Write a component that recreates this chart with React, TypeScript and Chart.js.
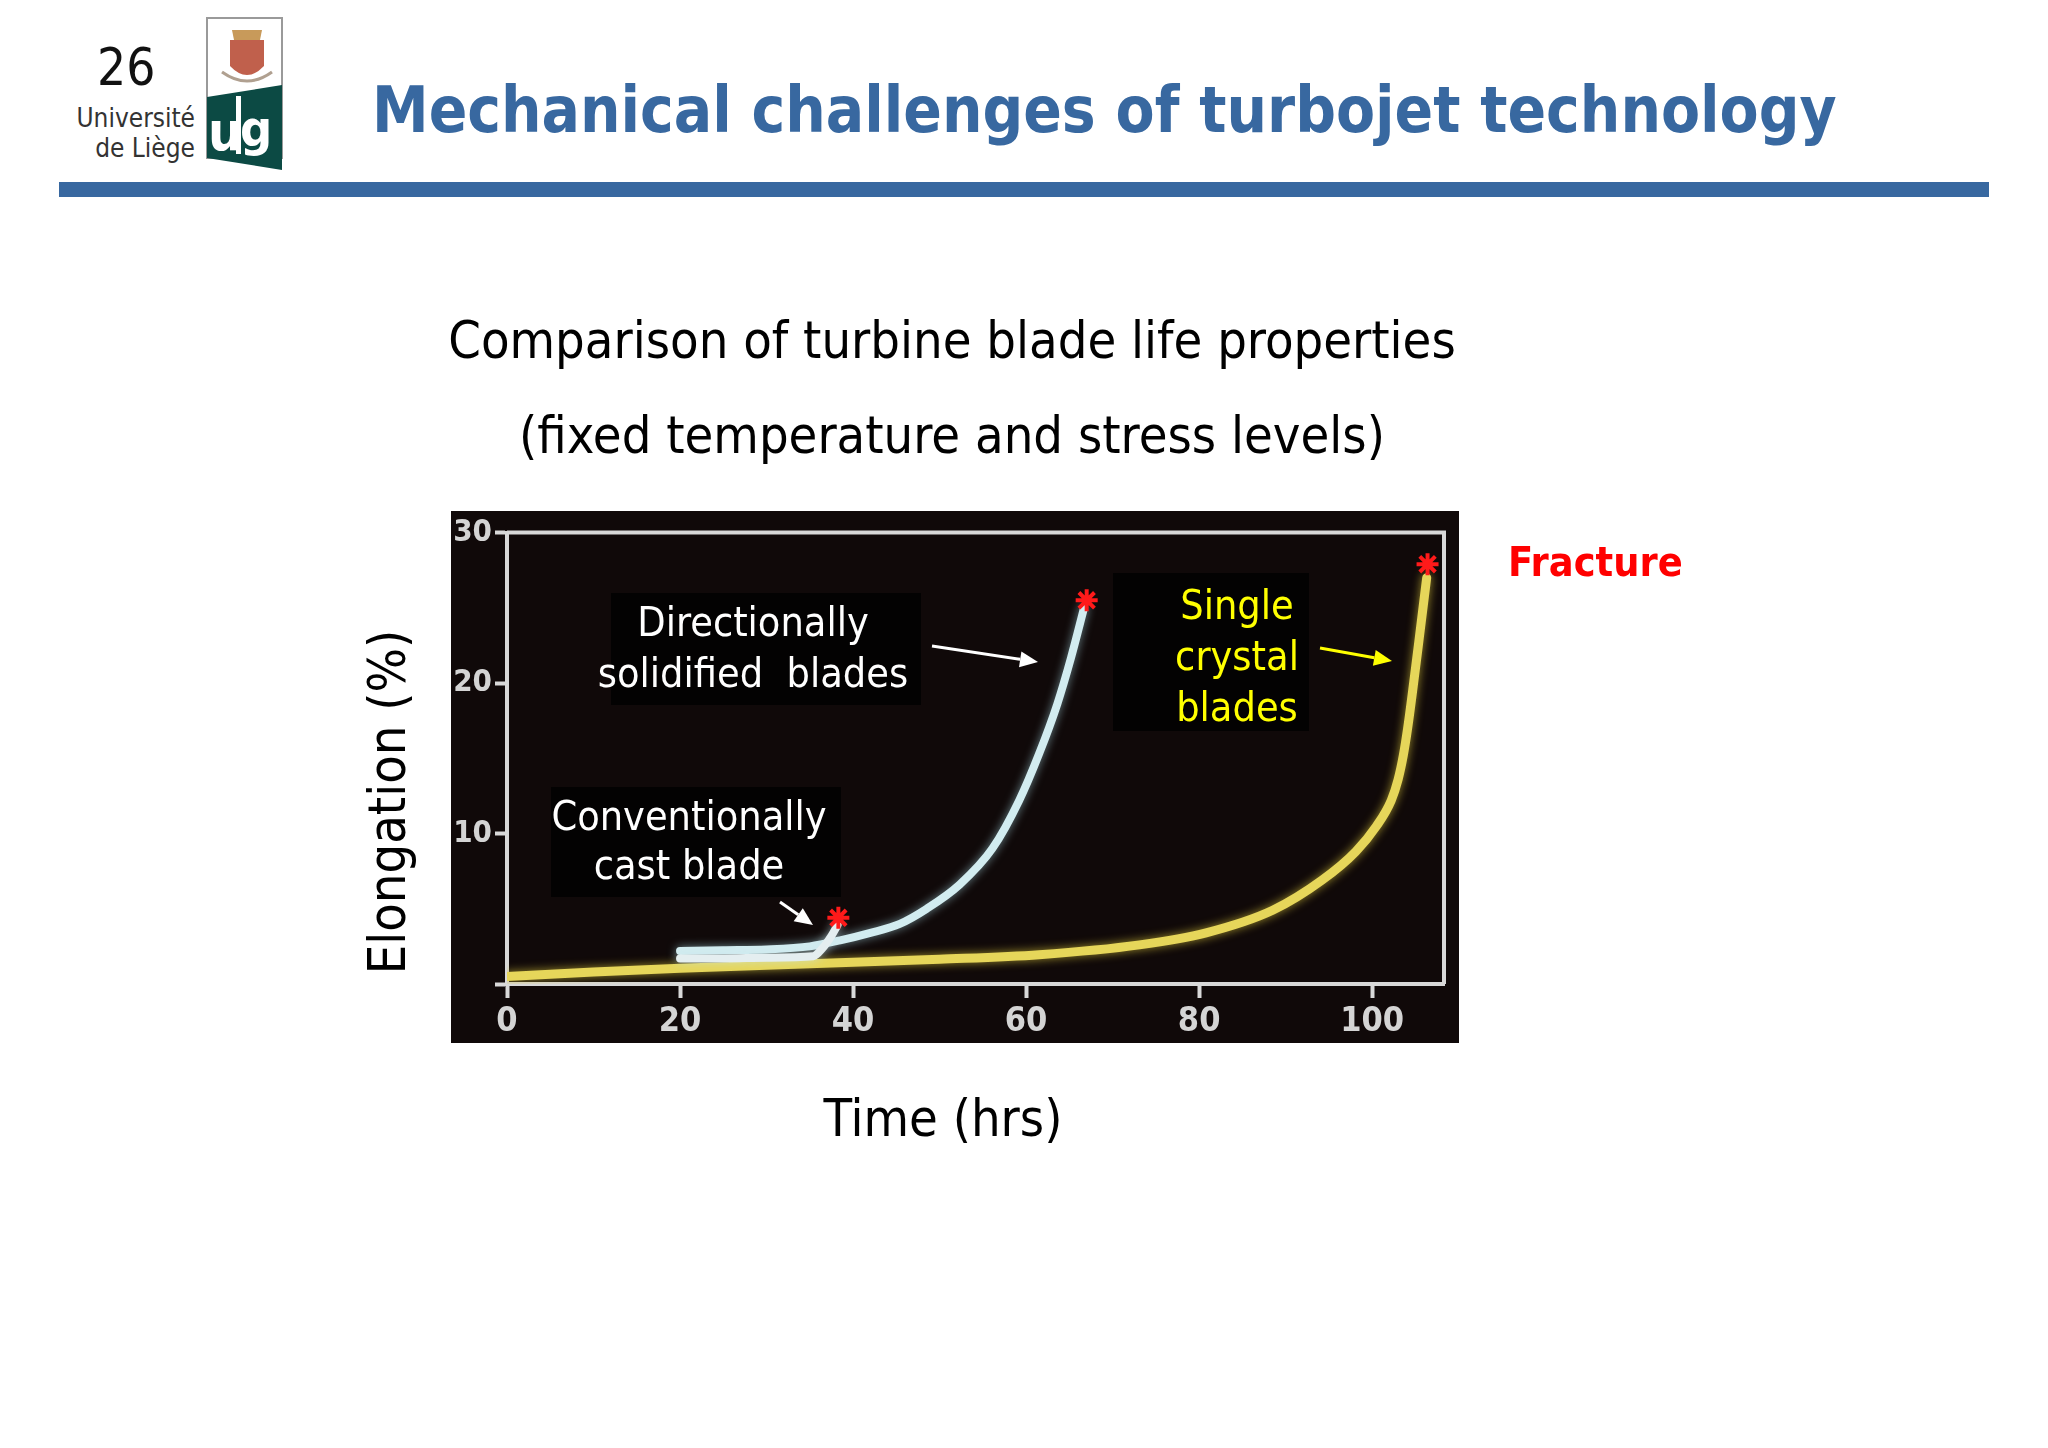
import React, { useEffect, useRef } from "react";
import { Chart, registerables } from "chart.js";

Chart.register(...registerables);

// ---------- data ----------
const xTickValues = [0, 20, 40, 60, 80, 100];
const yTickValues = [0, 10, 20, 30];
const yTickLabels = ["", "10", "20", "30"];

// Conventionally cast blade
const timeCC = [20, 25, 30, 35.4, 36.5, 37.5, 38.2];
const elongCC = [1.7, 1.7, 1.75, 1.85, 2.4, 3.2, 3.9];
// Directionally solidified blades
const timeDS = [20, 25, 30, 35, 38.5, 42, 45.4, 48.5, 52.3, 56.1, 59.2, 61.5, 63.6, 65.2, 66.7];
const elongDS = [2.2, 2.25, 2.3, 2.5, 2.9, 3.4, 4.0, 5.0, 6.6, 9.0, 12.2, 15.3, 18.6, 21.7, 25.0];
// Single crystal blades
const timeSC = [0, 10, 20, 30, 40, 50, 61.5, 73.1, 80.8, 88.5, 94.2, 98.1, 100.5, 102.2, 103.0, 103.6, 104.1, 104.7, 105.4, 106.3];
const elongSC = [0.5, 0.8, 1.05, 1.25, 1.45, 1.65, 1.95, 2.6, 3.4, 4.9, 6.9, 8.8, 10.5, 12.2, 13.6, 15.2, 17.0, 19.6, 22.8, 27.0];
// Fracture points
const fractureTime = [38.3, 67.0, 106.4];
const fractureElong = [4.4, 25.5, 27.9];

const xMin = 0;
const xMax = 108.3;
const yMin = 0;
const yMax = 30;

const FONT = '"DejaVu Sans Condensed", "DejaVu Sans", sans-serif';
const TICK_FONT = '"Liberation Sans Narrow", "DejaVu Sans Condensed", sans-serif';

const toPts = (xs: number[], ys: number[]) => xs.map((x, i) => ({ x, y: ys[i] }));

const framePlugin = {
  id: "frame",
  beforeDatasetsDraw(chart: any) {
    const { ctx, chartArea } = chart;
    ctx.save();
    ctx.strokeStyle = "#d8d8d8";
    ctx.lineWidth = 4;
    ctx.beginPath();
    ctx.moveTo(chartArea.left, chartArea.top);
    ctx.lineTo(chartArea.right, chartArea.top);
    ctx.lineTo(chartArea.right, chartArea.bottom);
    ctx.stroke();
    ctx.restore();
  },
  beforeDatasetDraw(chart: any, args: any) {
    const ds = chart.data.datasets[args.index];
    if (ds.glow) {
      chart.ctx.save();
      chart.ctx.shadowColor = ds.glow;
      chart.ctx.shadowBlur = 10;
    }
  },
  afterDatasetDraw(chart: any, args: any) {
    const ds = chart.data.datasets[args.index];
    if (ds.glow) chart.ctx.restore();
  },
};

function ChartBox() {
  const ref = useRef<HTMLCanvasElement>(null);
  useEffect(() => {
    if (!ref.current) return;
    const chart = new Chart(ref.current, {
      type: "line",
      data: {
        datasets: [
          {
            type: "scatter",
            label: "Fracture",
            data: toPts(fractureTime, fractureElong),
            pointStyle: "star",
            pointRadius: 11,
            pointBorderWidth: 4,
            pointBorderColor: "#ff1a1a",
            pointBackgroundColor: "#ff1a1a",
            showLine: false,
            order: 0,
          } as any,
          {
            label: "Conventionally cast blade",
            data: toPts(timeCC, elongCC),
            borderColor: "#e4eef0",
            borderWidth: 8,
            pointRadius: 0,
            cubicInterpolationMode: "monotone",
            borderCapStyle: "round",
            glow: "rgba(200,230,235,0.6)",
            order: 1,
          } as any,
          {
            label: "Directionally solidified blades",
            data: toPts(timeDS, elongDS),
            borderColor: "#d2ecf0",
            borderWidth: 8,
            pointRadius: 0,
            cubicInterpolationMode: "monotone",
            borderCapStyle: "round",
            glow: "rgba(170,220,230,0.6)",
            order: 2,
          } as any,
          {
            label: "Single crystal blades",
            data: toPts(timeSC, elongSC),
            borderColor: "#e6d65a",
            borderWidth: 9,
            pointRadius: 0,
            cubicInterpolationMode: "monotone",
            borderCapStyle: "round",
            glow: "rgba(220,200,60,0.7)",
            order: 3,
          } as any,
        ],
      },
      options: {
        animation: false,
        responsive: false,
        maintainAspectRatio: false,
        layout: { padding: { top: 18, right: 14, left: 0, bottom: 0 } },
        plugins: { legend: { display: false }, tooltip: { enabled: false } },
        scales: {
          x: {
            type: "linear",
            min: xMin,
            max: xMax,
            afterBuildTicks: (s: any) => {
              s.ticks = xTickValues.map((v) => ({ value: v }));
            },
            afterFit: (s: any) => {
              s.height = 59;
            },
            border: { display: true, color: "#d8d8d8", width: 4 },
            grid: { drawOnChartArea: false, drawTicks: true, tickLength: 14, tickWidth: 4, tickColor: "#d8d8d8" },
            ticks: {
              color: "#d4d4d4",
              padding: 4,
              maxRotation: 0,
              font: { family: TICK_FONT, size: 34, weight: "bold" },
              callback: (v: any) => String(v),
            },
          },
          y: {
            type: "linear",
            min: yMin,
            max: yMax,
            afterBuildTicks: (s: any) => {
              s.ticks = yTickValues.map((v) => ({ value: v }));
            },
            afterFit: (s: any) => {
              s.width = 56;
            },
            border: { display: true, color: "#d8d8d8", width: 4 },
            grid: { drawOnChartArea: false, drawTicks: true, tickLength: 12, tickWidth: 4, tickColor: "#d8d8d8" },
            ticks: {
              color: "#d4d4d4",
              padding: 3,
              font: { family: TICK_FONT, size: 31, weight: "bold" },
              callback: (v: any) => yTickLabels[yTickValues.indexOf(Number(v))] ?? "",
            },
          },
        },
      } as any,
      plugins: [framePlugin],
    });
    return () => chart.destroy();
  }, []);
  return <canvas ref={ref} width={1008} height={532} style={{ position: "absolute", left: 0, top: 0 }} />;
}

type TProps = { text: string; cx: number; top: number; size: number; color: string; bold?: boolean; w?: number };
function CText({ text, cx, top, size, color, bold, w = 800 }: TProps) {
  return (
    <div
      style={{
        position: "absolute",
        left: cx - w / 2,
        top,
        width: w,
        textAlign: "center",
        fontFamily: FONT,
        fontStretch: "condensed",
        fontSize: size,
        lineHeight: `${size}px`,
        fontWeight: bold ? 700 : 400,
        color,
        whiteSpace: "pre",
      }}
    >
      {text}
    </div>
  );
}

function Arrow({ x1, y1, x2, y2, color }: { x1: number; y1: number; x2: number; y2: number; color: string }) {
  const ang = Math.atan2(y2 - y1, x2 - x1);
  const L = 18;
  const W = 8;
  const bx = x2 - L * Math.cos(ang);
  const by = y2 - L * Math.sin(ang);
  const px = -Math.sin(ang) * W;
  const py = Math.cos(ang) * W;
  return (
    <g>
      <line x1={x1} y1={y1} x2={bx} y2={by} stroke={color} strokeWidth={3} />
      <polygon points={`${x2},${y2} ${bx + px},${by + py} ${bx - px},${by - py}`} fill={color} />
    </g>
  );
}

export default function App() {
  const BLUE = "#3868a0";
  return (
    <div style={{ position: "absolute", left: 0, top: 0, width: 2048, height: 1448, background: "#fff", overflow: "hidden" }}>
      {/* Header */}
      <div style={{ position: "absolute", left: 97, top: 42, fontFamily: FONT, fontSize: 51, lineHeight: "51px", color: "#111" }}>26</div>
      <div style={{ position: "absolute", left: 40, width: 155, top: 103, textAlign: "right", fontFamily: FONT, fontStretch: "condensed", fontSize: 26, lineHeight: "30px", color: "#333" }}>
        Université
        <br />
        de Liège
      </div>
      <svg style={{ position: "absolute", left: 0, top: 0 }} width={300} height={180}>
        <rect x={207} y={18} width={75} height={140} fill="none" stroke="#9a9a9a" strokeWidth={2} />
        <path d="M230 40 L264 40 L264 66 Q247 84 230 66 Z" fill="#c0604c" />
        <path d="M232 30 L262 30 L260 40 L234 40 Z" fill="#c89a5a" />
        <path d="M222 72 Q247 90 272 72" fill="none" stroke="#b0a090" strokeWidth={3} />
        <path d="M207 97 L282 85 L282 170 L207 158 Z" fill="#0c4a44" />
        <text x={208} y={150} fill="#fff" fontFamily={FONT} fontWeight={700} fontSize={54}>
          u
        </text>
        <text x={240} y={146} fill="#fff" fontFamily={FONT} fontWeight={700} fontSize={50}>
          g
        </text>
        <rect x={236} y={96} width={5} height={58} fill="#fff" />
      </svg>
      <div
        style={{
          position: "absolute",
          left: 372,
          top: 78,
          fontFamily: FONT,
          fontStretch: "condensed",
          fontSize: 63.3,
          lineHeight: "64px",
          fontWeight: 700,
          color: BLUE,
          whiteSpace: "nowrap",
        }}
      >
        Mechanical challenges of turbojet technology
      </div>
      <div style={{ position: "absolute", left: 59, top: 182, width: 1930, height: 15, background: BLUE }} />

      {/* Subtitles */}
      <CText text="Comparison of turbine blade life properties" cx={952} top={314} size={52} color="#000" w={1400} />
      <CText text="(fixed temperature and stress levels)" cx={952} top={409} size={52} color="#000" w={1400} />

      {/* Chart panel */}
      <div style={{ position: "absolute", left: 451, top: 511, width: 1008, height: 532, background: "#100909" }}>
        {/* text backgrounds */}
        <div style={{ position: "absolute", left: 160, top: 82, width: 310, height: 112, background: "#030202" }} />
        <div style={{ position: "absolute", left: 100, top: 276, width: 290, height: 110, background: "#030202" }} />
        <div style={{ position: "absolute", left: 662, top: 62, width: 196, height: 158, background: "#030202" }} />
        <ChartBox />
      </div>

      {/* Annotations */}
      <CText text="Directionally" cx={753} top={602} size={41} color="#fff" />
      <CText text="solidified  blades" cx={753} top={653} size={41} color="#fff" />
      <CText text="Conventionally" cx={689} top={796} size={41} color="#fff" />
      <CText text="cast blade" cx={689} top={845} size={41} color="#fff" />
      <CText text="Single" cx={1237} top={585} size={41} color="#ffff00" />
      <CText text="crystal" cx={1237} top={636} size={41} color="#ffff00" />
      <CText text="blades" cx={1237} top={687} size={41} color="#ffff00" />
      <svg style={{ position: "absolute", left: 0, top: 0 }} width={2048} height={1448}>
        <Arrow x1={932} y1={646} x2={1038} y2={662} color="#ffffff" />
        <Arrow x1={1320} y1={648} x2={1392} y2={661} color="#ffff00" />
        <Arrow x1={780} y1={902} x2={813} y2={925} color="#ffffff" />
      </svg>
      <div style={{ position: "absolute", left: 1508, top: 542, fontFamily: FONT, fontStretch: "condensed", fontSize: 41, lineHeight: "41px", fontWeight: 700, color: "#ff0000", whiteSpace: "nowrap" }}>
        Fracture
      </div>

      {/* Axis titles */}
      <div
        style={{
          position: "absolute",
          left: 387 - 250,
          top: 802 - 26,
          width: 500,
          height: 52,
          textAlign: "center",
          fontFamily: FONT,
          fontStretch: "condensed",
          fontSize: 52,
          lineHeight: "52px",
          color: "#000",
          transform: "rotate(-90deg)",
          whiteSpace: "nowrap",
        }}
      >
        Elongation (%)
      </div>
      <CText text="Time (hrs)" cx={943} top={1092} size={52} color="#000" />
    </div>
  );
}
